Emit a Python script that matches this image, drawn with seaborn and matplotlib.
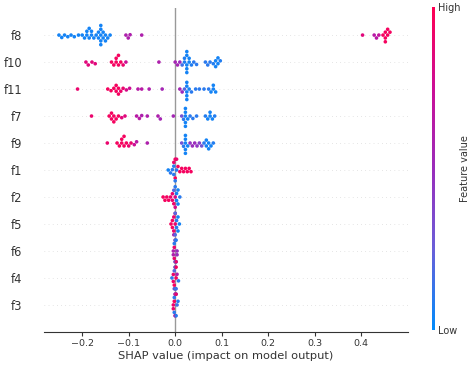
import numpy as np
import pandas as pd
import seaborn as sns
import matplotlib.pyplot as plt
from matplotlib.colors import LinearSegmentedColormap

# Ordem das features (de cima para baixo)
features = ['f8', 'f10', 'f11', 'f7', 'f9', 'f1', 'f2', 'f5', 'f6', 'f4', 'f3']

# Valores SHAP, quantos pontos em cada valor e valor da feature (0 = baixo, 1 = alto)
f8_shap = [-0.250, -0.244, -0.238, -0.231, -0.224, -0.217, -0.208, -0.200, -0.195, -0.190, -0.185, -0.180,
           -0.175, -0.170, -0.165, -0.160, -0.155, -0.150, -0.145, -0.140, -0.106, -0.101, -0.097, -0.072,
           0.403, 0.428, 0.433, 0.438, 0.447, 0.452, 0.457, 0.462]
f8_n = [1, 1, 1, 1, 1, 1, 1, 1, 1, 2, 2, 2, 1, 1, 2, 5, 2, 2, 1, 1, 1, 1, 1, 1, 1, 1, 1, 1, 1, 3, 2, 1]
f8_fv = [0.05, 0.05, 0.05, 0.05, 0.05, 0.05, 0.05, 0.05, 0.05, 0.05, 0.05, 0.05, 0.05, 0.05, 0.05, 0.05,
         0.05, 0.05, 0.05, 0.05, 0.6, 0.6, 0.6, 0.6, 0.85, 0.65, 0.65, 0.7, 0.95, 0.95, 0.95, 0.95]

f10_shap = [-0.192, -0.187, -0.179, -0.172, -0.137, -0.132, -0.127, -0.122, -0.117, -0.112, -0.106, -0.035,
            0.000, 0.005, 0.010, 0.015, 0.020, 0.025, 0.030, 0.035, 0.040, 0.046, 0.065, 0.070, 0.075,
            0.082, 0.087, 0.092, 0.097]
f10_n = [1, 1, 1, 1, 1, 1, 2, 2, 1, 1, 1, 1, 1, 1, 1, 1, 2, 5, 2, 1, 1, 1, 1, 1, 1, 1, 2, 2, 1]
f10_fv = [0.85, 0.85, 0.85, 0.85, 0.95, 0.95, 0.95, 0.95, 0.95, 0.9, 0.75, 0.6, 0.55, 0.55, 0.5,
          0.15, 0.08, 0.05, 0.05, 0.08, 0.1, 0.1, 0.1, 0.1, 0.1, 0.08, 0.05, 0.05, 0.08]

f11_shap = [-0.210, -0.145, -0.138, -0.132, -0.127, -0.122, -0.117, -0.112, -0.105, -0.098, -0.080, -0.072,
            -0.056, -0.028, 0.010, 0.015, 0.020, 0.025, 0.030, 0.035, 0.044, 0.052, 0.062, 0.072, 0.077,
            0.082, 0.087]
f11_n = [1, 1, 1, 1, 2, 2, 1, 1, 1, 1, 1, 1, 1, 1, 1, 1, 1, 5, 1, 1, 1, 1, 1, 1, 1, 2, 1]
f11_fv = [0.9, 0.95, 0.95, 0.95, 0.95, 0.95, 0.9, 0.9, 0.8, 0.75, 0.65, 0.65, 0.6, 0.55, 0.55, 0.5,
          0.2, 0.05, 0.05, 0.1, 0.1, 0.1, 0.1, 0.1, 0.05, 0.05, 0.05]

f7_shap = [-0.180, -0.142, -0.137, -0.132, -0.127, -0.122, -0.115, -0.108, -0.083, -0.077, -0.072, -0.060,
           -0.037, -0.032, -0.004, 0.014, 0.018, 0.022, 0.027, 0.032, 0.038, 0.046, 0.065, 0.070, 0.075,
           0.080, 0.085]
f7_n = [1, 1, 2, 2, 1, 1, 1, 1, 1, 1, 1, 1, 1, 1, 1, 1, 1, 5, 1, 1, 1, 1, 1, 1, 2, 1, 1]
f7_fv = [0.9, 0.95, 0.95, 0.95, 0.95, 0.95, 0.85, 0.85, 0.65, 0.65, 0.6, 0.6, 0.6, 0.55, 0.55,
         0.3, 0.1, 0.05, 0.05, 0.1, 0.1, 0.1, 0.08, 0.05, 0.05, 0.05, 0.08]

f9_shap = [-0.146, -0.125, -0.120, -0.115, -0.110, -0.105, -0.100, -0.095, -0.088, -0.083, -0.060,
           0.014, 0.018, 0.022, 0.027, 0.032, 0.037, 0.042, 0.047, 0.052, 0.057, 0.062, 0.067, 0.072,
           0.077, 0.082]
f9_n = [1, 1, 1, 2, 2, 1, 1, 1, 1, 1, 1, 1, 1, 5, 1, 1, 1, 1, 1, 1, 1, 1, 2, 2, 1, 1]
f9_fv = [0.9, 0.95, 0.95, 0.95, 0.95, 0.95, 0.9, 0.9, 0.75, 0.65, 0.6, 0.3, 0.1, 0.05, 0.05,
         0.45, 0.5, 0.5, 0.45, 0.4, 0.3, 0.1, 0.05, 0.05, 0.05, 0.08]

f1_shap = [-0.015, -0.010, -0.006, -0.003, -0.003, 0.000, 0.000, 0.003, 0.003, 0.006, 0.010, 0.014,
           0.018, 0.022, 0.026, 0.030, 0.034]
f1_n = [1, 1, 1, 2, 1, 2, 1, 1, 1, 1, 1, 1, 1, 1, 1, 1, 1]
f1_fv = [0.05, 0.1, 0.1, 0.1, 0.9, 0.95, 0.1, 0.1, 0.9, 0.95, 0.95, 0.95, 0.95, 0.95, 0.95, 0.95, 0.95]

f2_shap = [-0.026, -0.022, -0.018, -0.014, -0.010, -0.006, -0.003, -0.003, 0.000, 0.000, 0.003, 0.006, 0.010]
f2_n = [1, 1, 1, 1, 1, 2, 1, 1, 2, 1, 2, 2, 1]
f2_fv = [0.95, 0.95, 0.95, 0.95, 0.9, 0.9, 0.9, 0.2, 0.8, 0.1, 0.05, 0.05, 0.1]

f5_shap = [-0.009, -0.006, -0.003, -0.003, 0.000, 0.000, 0.003, 0.006, 0.009]
f5_n = [1, 2, 2, 1, 2, 2, 2, 2, 1]
f5_fv = [0.95, 0.95, 0.9, 0.6, 0.9, 0.2, 0.1, 0.05, 0.05]

f6_shap = [-0.004, -0.002, -0.002, 0.000, 0.000, 0.002, 0.002, 0.004]
f6_n = [2, 2, 1, 2, 2, 2, 1, 2]
f6_fv = [0.6, 0.9, 0.1, 0.9, 0.15, 0.1, 0.9, 0.5]

f4_shap = [-0.007, -0.004, -0.002, -0.002, 0.000, 0.000, 0.002, 0.002, 0.004, 0.007]
f4_n = [1, 2, 1, 2, 2, 2, 2, 1, 1, 1]
f4_fv = [0.1, 0.9, 0.95, 0.2, 0.9, 0.1, 0.95, 0.15, 0.6, 0.1]

f3_shap = [-0.004, -0.002, -0.002, 0.000, 0.000, 0.002, 0.002, 0.004, 0.006]
f3_n = [2, 1, 2, 2, 2, 2, 1, 1, 1]
f3_fv = [0.9, 0.95, 0.1, 0.2, 0.8, 0.1, 0.9, 0.15, 0.1]

dados = {
    'f8': (f8_shap, f8_n, f8_fv), 'f10': (f10_shap, f10_n, f10_fv), 'f11': (f11_shap, f11_n, f11_fv),
    'f7': (f7_shap, f7_n, f7_fv), 'f9': (f9_shap, f9_n, f9_fv), 'f1': (f1_shap, f1_n, f1_fv),
    'f2': (f2_shap, f2_n, f2_fv), 'f5': (f5_shap, f5_n, f5_fv), 'f6': (f6_shap, f6_n, f6_fv),
    'f4': (f4_shap, f4_n, f4_fv), 'f3': (f3_shap, f3_n, f3_fv),
}

# Monta a tabela longa
partes = []
for nome, (shap, n, fv) in dados.items():
    partes.append(pd.DataFrame({
        'feature': nome,
        'shap': np.repeat(shap, n),
        'fv': np.repeat(fv, n),
    }))
df = pd.concat(partes, ignore_index=True)

# Mapa de cores azul -> roxo -> vermelho (estilo shap)
cmap = LinearSegmentedColormap.from_list(
    'red_blue', ['#008bfb', '#6a5fd9', '#9a2cbb', '#cc0e96', '#ff0052'])

axis_color = '#333333'

fig = plt.figure(figsize=(4.74, 3.68), dpi=100)
ax = fig.add_axes([0.093, 0.098, 0.768, 0.88])

# Linhas de fundo
for i in range(len(features)):
    ax.axhline(i, color='#cccccc', lw=0.5, dashes=(1, 5), zorder=-1)
ax.axvline(0, color='#999999', lw=1, zorder=-1)

sns.swarmplot(data=df, x='shap', y='feature', hue='fv', order=features, palette=cmap,
              hue_norm=(0, 1), size=2.6, linewidth=0, legend=False, ax=ax, zorder=3)

ax.set_xlim(-0.282, 0.501)
ax.set_ylim(len(features), -1)
ax.set_xticks([-0.2, -0.1, 0.0, 0.1, 0.2, 0.3, 0.4])
ax.set_xlabel('SHAP value (impact on model output)', fontsize=8.2, color=axis_color, labelpad=2)
ax.set_ylabel('')

for lado in ['top', 'right', 'left']:
    ax.spines[lado].set_visible(False)
ax.spines['bottom'].set_color(axis_color)
ax.tick_params(axis='y', length=0, pad=16, labelsize=8.3, labelcolor=axis_color)
ax.tick_params(axis='x', length=3, width=0.8, labelsize=6.8, color=axis_color, labelcolor=axis_color, pad=2)

# Barra de cores
sm = plt.cm.ScalarMappable(cmap=cmap, norm=plt.Normalize(0, 1))
cax = fig.add_axes([0.911, 0.103, 0.0065, 0.878])
cb = fig.colorbar(sm, cax=cax, ticks=[0, 1])
cb.set_ticklabels(['Low', 'High'])
cb.ax.tick_params(labelsize=7, length=0, pad=2, labelcolor=axis_color)
cb.outline.set_visible(False)
cb.set_label('Feature value', size=7, labelpad=0, color=axis_color)

plt.savefig('out.png', dpi=100)
